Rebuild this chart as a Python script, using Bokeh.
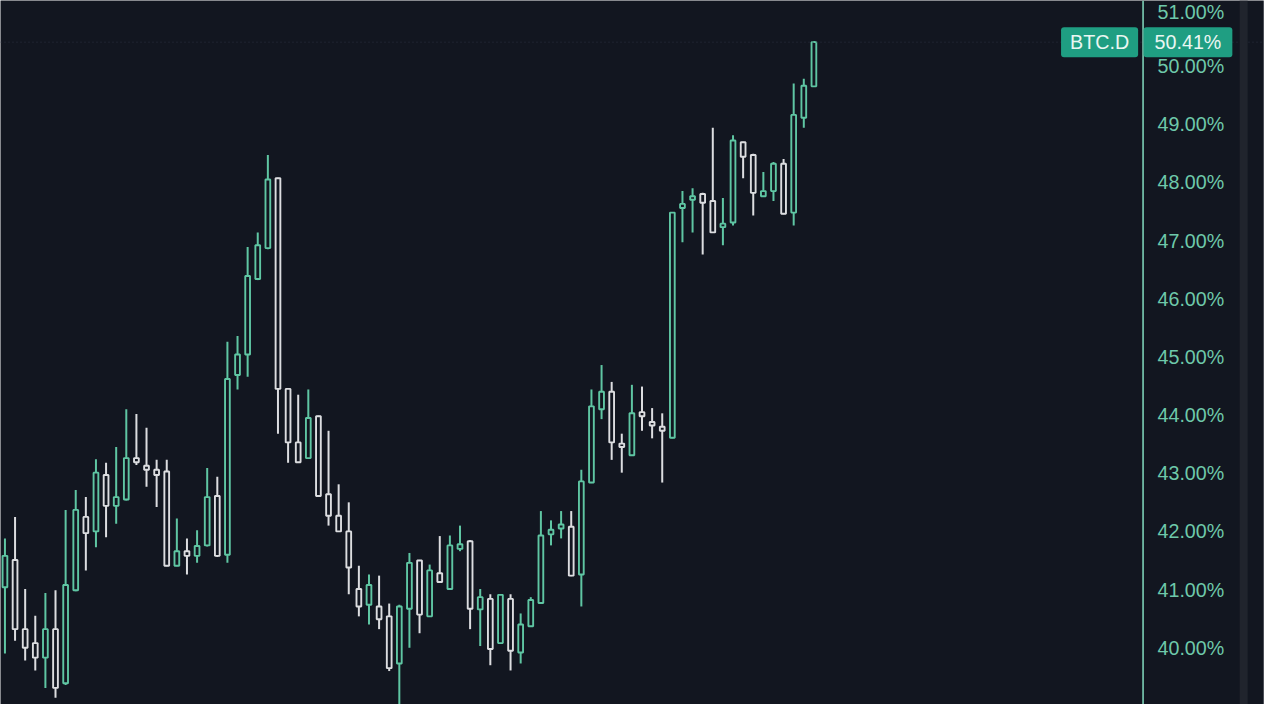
from bokeh.plotting import figure
from bokeh.models import (ColumnDataSource, FixedTicker, CustomJSTickFormatter, Span,
                          Label, Range1d, LinearAxis)
from bokeh.embed import file_html
from bokeh.resources import INLINE

# ---- data (BTC dominance, %) ----
opens = [41.04, 41.51, 40.32, 40.08, 39.83, 40.32, 39.39, 40.99, 42.25, 42.00,
         42.97, 42.44, 42.55, 43.26, 43.13, 43.06, 43.03, 41.41, 41.66, 41.58,
         41.76, 42.61, 41.60, 44.69, 45.04, 46.34, 46.87, 48.07, 44.45, 43.53,
         43.26, 43.98, 42.64, 42.27, 42.00, 41.01, 40.74, 40.71, 40.54, 39.73,
         40.67, 41.50, 40.54, 41.28, 41.01, 41.70, 41.83, 40.66, 40.84, 40.08,
         40.84, 39.92, 40.37, 40.77, 41.95, 42.05, 42.08, 41.26, 42.84, 44.10,
         44.40, 43.51, 43.31, 44.05, 43.88, 43.80, 43.61, 47.56, 47.70, 47.80,
         47.68, 47.23, 47.31, 48.69, 48.47, 47.76, 47.85, 48.32, 47.48, 49.11,
         49.65]
highs = [41.88, 42.25, 41.01, 40.55, 40.94, 40.99, 42.37, 42.71, 42.59, 43.24,
         43.18, 43.45, 44.10, 44.02, 43.78, 43.23, 43.23, 42.22, 41.88, 42.02,
         43.09, 42.94, 45.26, 45.36, 46.89, 47.14, 48.47, 48.08, 44.46, 44.35,
         44.44, 43.99, 43.73, 42.81, 42.50, 41.41, 41.26, 41.24, 40.76, 40.74,
         41.63, 41.51, 41.43, 41.92, 41.93, 42.10, 41.85, 41.01, 40.92, 40.92,
         40.92, 40.59, 40.87, 42.35, 42.19, 42.35, 42.35, 43.06, 44.44, 44.86,
         44.57, 43.68, 44.52, 44.49, 44.12, 44.03, 47.49, 47.85, 47.90, 47.82,
         48.94, 47.73, 48.81, 48.70, 48.49, 48.18, 48.35, 48.40, 49.70, 49.78,
         50.43]
lows = [39.90, 40.12, 39.78, 39.61, 39.31, 39.14, 39.36, 40.97, 41.33, 41.73,
        41.90, 42.13, 42.53, 43.14, 42.77, 42.42, 41.40, 41.40, 41.26, 41.46,
        41.74, 41.56, 41.46, 44.44, 44.66, 46.32, 46.85, 43.68, 43.18, 43.18,
        43.25, 42.60, 42.10, 41.99, 40.92, 40.54, 40.40, 40.32, 39.60, 38.70,
        40.00, 40.25, 40.53, 41.12, 41.00, 41.66, 40.32, 40.03, 39.70, 40.07,
        39.61, 39.73, 40.36, 40.76, 41.76, 41.88, 41.23, 40.71, 42.83, 43.93,
        43.23, 43.01, 43.30, 43.73, 43.60, 42.84, 43.60, 46.97, 47.14, 46.76,
        47.13, 46.92, 47.26, 48.07, 47.43, 47.75, 47.68, 47.45, 47.26, 48.94,
        49.64]
closes = [41.58, 40.32, 40.00, 39.83, 40.32, 39.31, 41.08, 42.37, 41.97, 43.01,
          42.44, 42.59, 43.26, 43.19, 43.06, 42.97, 41.41, 41.66, 41.58, 41.75,
          42.59, 41.58, 44.62, 45.04, 46.39, 46.92, 48.05, 44.45, 43.53, 43.19,
          43.95, 42.61, 42.27, 42.00, 41.38, 40.71, 41.08, 40.49, 39.65, 40.71,
          41.46, 40.57, 41.33, 41.13, 41.76, 41.78, 40.67, 40.87, 39.98, 40.91,
          39.95, 40.40, 40.82, 41.93, 42.03, 42.12, 41.24, 42.86, 44.15, 44.40,
          43.53, 43.45, 44.03, 43.98, 43.82, 43.73, 47.48, 47.63, 47.76, 47.65,
          47.14, 47.29, 48.72, 48.44, 47.82, 47.85, 48.32, 47.46, 49.16, 49.66,
          50.41]
tick_values = [39, 40, 41, 42, 43, 44, 45, 46, 47, 48, 49, 50, 51]
symbol = "BTC.D"

# ---- style ----
BG = "#121620"
UP = "#5fc6a3"
DOWN = "#dcdde0"
TEAL_BOX = "#1f9e82"
AXIS_TXT = "#6ec9aa"
FONT = "Liberation Sans"
FS = "19.7px"

# layout positions, in bar-index units of the x scale
X_START, X_END = -0.44, 124.46
PRICE_SCALE_X = 112.55      # vertical border of the price scale
SCROLL_X = 122.5            # faint strip at far right
SYMBOL_TAG_X = 108.25
PRICE_TAG_X = 116.99

idx = list(range(len(opens)))
colors = [UP if c >= o else DOWN for o, c in zip(opens, closes)]
tops = [max(o, c) for o, c in zip(opens, closes)]
bottoms = [min(o, c) for o, c in zip(opens, closes)]
src = ColumnDataSource(dict(x=idx, high=highs, low=lows, top=tops,
                            bottom=bottoms, color=colors))

W, H = 1264, 704

p = figure(width=W, height=H, output_backend="svg", toolbar_location=None,
           x_range=Range1d(X_START, X_END), y_range=Range1d(39.025, 51.126),
           x_axis_location=None, y_axis_location=None,
           background_fill_color=BG, border_fill_color=BG,
           min_border_left=0, min_border_top=0, min_border_bottom=0,
           min_border_right=1)
p.outline_line_color = None
p.grid.visible = False

p.segment(x0="x", y0="high", x1="x", y1="low", source=src,
          line_color="color", line_width=2)
p.vbar(x="x", top="top", bottom="bottom", width=0.47, source=src,
       fill_color=BG, line_color="color", line_width=1.9)

last = closes[-1]
p.add_layout(Span(location=last, dimension="width", line_color="#2c3242",
                  line_dash="1 3", line_width=1))
p.add_layout(Span(location=SCROLL_X, dimension="height", line_color="#20242d",
                  line_width=8))
p.add_layout(Span(location=PRICE_SCALE_X, dimension="height", line_color="#7ccfb5",
                  line_width=1.6))

p.add_layout(Label(x=SYMBOL_TAG_X, y=last, text=symbol,
                   text_align="center", text_baseline="middle", text_color="#eaf6f2",
                   text_font=FONT, text_font_size=FS,
                   background_fill_color=TEAL_BOX,
                   padding=dict(left=9, right=9, top=4, bottom=4),
                   border_radius=3))
p.add_layout(Label(x=PRICE_TAG_X, y=last, text=f"{last:.2f}%",
                   text_align="center", text_baseline="middle", text_color="#eaf6f2",
                   text_font=FONT, text_font_size=FS,
                   background_fill_color=TEAL_BOX,
                   padding=dict(left=11, right=11, top=4, bottom=4),
                   border_radius=3))

ax = LinearAxis()
ax.ticker = FixedTicker(ticks=tick_values)
ax.formatter = CustomJSTickFormatter(code="return tick.toFixed(2) + '%';")
ax.axis_line_color = None
ax.major_tick_line_color = None
ax.minor_tick_line_color = None
ax.major_tick_out = 0
ax.major_tick_in = 0
ax.major_label_standoff = -106
ax.major_label_text_color = AXIS_TXT
ax.major_label_text_font = FONT
ax.major_label_text_font_size = FS
p.add_layout(ax, "right")

open("out.html", "w").write(file_html(p, INLINE))
